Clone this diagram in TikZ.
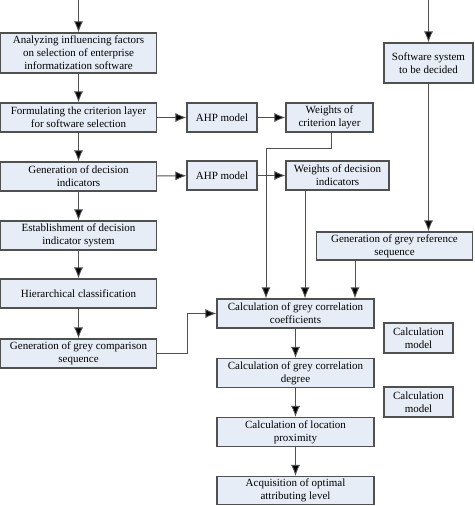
\documentclass[tikz,border=0pt]{standalone}
\usepackage{fontspec}
\setmainfont{Liberation Serif}
\newfontfamily\boxfont{Liberation Serif}
\usetikzlibrary{arrows.meta}
\definecolor{boxfill}{HTML}{E7EDF6}
\definecolor{boxline}{HTML}{505050}
\begin{document}
\begin{tikzpicture}[x=1pt,y=-1pt,
  box/.style={draw=boxline,fill=boxfill,line width=1.1pt,inner sep=1pt,align=center,
    font=\boxfont\fontsize{11}{13}\selectfont},
  arr/.style={draw=boxline,line width=0.9pt,-{Latex[length=11pt,width=9pt,fill=black]}}]
\useasboundingbox (0,0) rectangle (474,506);
% left column
\node[box,minimum width=156pt,minimum height=40pt] (b1) at (78.5,53) {Analyzing influencing factors\\on selection of enterprise\\informatization software};
\node[box,minimum width=156pt,minimum height=29pt] (b2) at (78.5,117.5) {Formulating the criterion layer\\for software selection};
\node[box,minimum width=156pt,minimum height=29pt] (b3) at (78.5,176.5) {Generation of decision\\indicators};
\node[box,minimum width=156pt,minimum height=29pt] (b4) at (78.5,235.5) {Establishment of decision\\indicator system};
\node[box,minimum width=156pt,minimum height=29pt] (b5) at (78.5,293.5) {Hierarchical classification};
\node[box,minimum width=156pt,minimum height=29pt] (b6) at (78.5,353.5) {Generation of grey comparison\\sequence};
% AHP and weights
\node[box,minimum width=70pt,minimum height=29pt] (ahp1) at (222,117.5) {AHP model};
\node[box,minimum width=87pt,minimum height=29pt] (w1) at (329.5,117.5) {Weights of\\criterion layer};
\node[box,minimum width=70pt,minimum height=29pt] (ahp2) at (222,175.5) {AHP model};
\node[box,minimum width=103pt,minimum height=29pt] (w2) at (337.5,175.5) {Weights of decision\\indicators};
% right column
\node[box,minimum width=89pt,minimum height=40pt] (sw) at (428.5,63) {Software system\\to be decided};
\node[box,minimum width=156pt,minimum height=28pt] (ref) at (394.5,246) {Generation of grey reference\\sequence};
% calculation column
\node[box,minimum width=157pt,minimum height=29pt] (c1) at (295.5,313.5) {Calculation of grey correlation\\coefficients};
\node[box,minimum width=157pt,minimum height=29pt] (c2) at (295.5,373) {Calculation of grey correlation\\degree};
\node[box,minimum width=157pt,minimum height=29pt] (c3) at (295.5,432) {Calculation of location\\proximity};
\node[box,minimum width=157pt,minimum height=28pt] (c4) at (295.5,490.5) {Acquisition of optimal\\attributing level};
\node[box,minimum width=69pt,minimum height=30pt] (cm1) at (418.5,338) {Calculation\\model};
\node[box,minimum width=69pt,minimum height=30pt] (cm2) at (418.5,402) {Calculation\\model};
% free ends
\coordinate (in1) at (78.5,0);
\coordinate (in2) at (428.5,0);
% connectors
\draw[arr] (in1) -- (b1);
\draw[arr] (in2) -- (sw);
\draw[arr] (b1) -- (b2);
\draw[arr] (b2) -- (b3);
\draw[arr] (b3) -- (b4);
\draw[arr] (b4) -- (b5);
\draw[arr] (b5) -- (b6);
\draw[arr] (b2) -- (ahp1);
\draw[arr] (ahp1) -- (w1);
\draw[arr] (b3) -- (ahp2);
\draw[arr] (ahp2) -- (w2);
\draw[arr] ([xshift=1.5pt]w1.south) -- ++(0,16) -| ([xshift=-29.5pt]c1.north);
\draw[arr] ([xshift=-32.5pt]w2.south) -- ([xshift=-32.5pt]w2.south |- c1.north);
\draw[arr] ([xshift=-39.5pt]ref.south) -- ([xshift=-39.5pt]ref.south |- c1.north);
\draw[arr] (sw.south) -- (sw.south |- ref.north);
\draw[arr] (b6.east) -- ++(30,0) |- (c1.west);
\draw[arr] (c1) -- (c2);
\draw[arr] (c2) -- (c3);
\draw[arr] (c3) -- (c4);
\end{tikzpicture}
\end{document}
